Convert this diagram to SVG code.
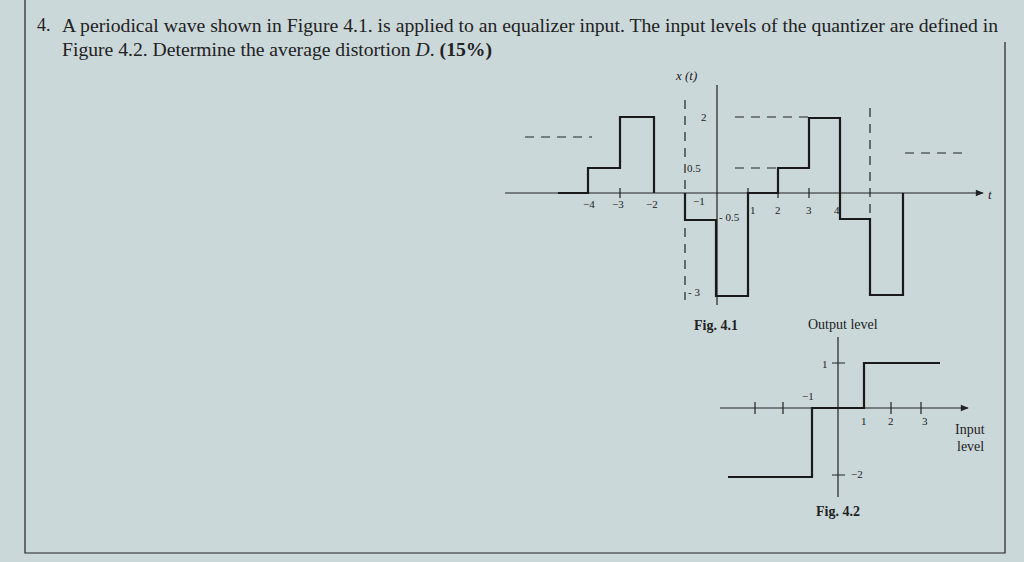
<svg xmlns="http://www.w3.org/2000/svg" width="1024" height="562" viewBox="0 0 1024 562">
<defs>
<style>
.t{font-family:"Liberation Serif",serif;fill:#222}
.s{font-family:"Liberation Serif",serif;fill:#222;font-size:11px}
.ax{stroke:#222;stroke-width:1.2;fill:none}
.w{stroke:#1a1a1a;stroke-width:2.2;fill:none}
.d{stroke:#222;stroke-width:1.2;fill:none;stroke-dasharray:9,7}
</style>
<marker id="ar" viewBox="0 0 10 10" refX="9" refY="5" markerWidth="10" markerHeight="8" orient="auto" markerUnits="userSpaceOnUse"><path d="M0,1 L10,5 L0,9z" fill="#222"/></marker>
</defs>
<rect width="1024" height="562" fill="#cbd8da"/>
<g id="frame" class="ax" stroke-width="1.6"><path d="M25,0 V553 H1005 V42"/></g>
<g id="text">
<text class="t" x="37" y="31" font-size="18">4.</text>
<text class="t" x="62" y="32" font-size="18" textLength="936" lengthAdjust="spacingAndGlyphs">A periodical wave shown in Figure 4.1. is applied to an equalizer input. The input levels of the quantizer are defined in</text>
<text class="t" x="62" y="56" font-size="18" textLength="430" lengthAdjust="spacingAndGlyphs">Figure 4.2. Determine the average distortion <tspan font-style="italic">D</tspan>. <tspan font-weight="bold">(15%)</tspan></text>
</g>
<g id="fig41">
<path class="ax" d="M505,193 H983" marker-end="url(#ar)"/>
<path class="ax" d="M717,85 V305"/>
<path class="ax" d="M620,188 V198 M748,188 V198 M778,188 V198 M809,188 V198"/>
<path class="d" d="M525,137 H592 M685,100 V300 M735,117 H808 M735,168 H778 M870,108 V300 M905,153 H965"/>
<path class="w" d="M558,193 H588 V168 H620 V117 H654 V193 M685,193 V220 H716 V296 H748 V193 H778 V168 H809 V118 H840 V219 H870 V295 H903 V193"/>
<text class="t" x="676" y="80" font-size="13" font-style="italic">x (t)</text>
<text class="t" x="988" y="199" font-size="13" font-style="italic">t</text>
<text class="s" x="701" y="121">2</text>
<text class="s" x="687" y="172">0.5</text>
<text class="s" x="719" y="221">- 0.5</text>
<text class="s" x="688" y="296">- 3</text>
<text class="s" x="583" y="208">−4</text>
<text class="s" x="612" y="208">−3</text>
<text class="s" x="646" y="208">−2</text>
<text class="s" x="693" y="205">−1</text>
<text class="s" x="750" y="214">1</text>
<text class="s" x="775" y="214">2</text>
<text class="s" x="806" y="214">3</text>
<text class="s" x="834" y="214">4</text>
<text class="t" x="694" y="330" font-size="14" font-weight="bold">Fig. 4.1</text>
</g>
<g id="fig42">
<path class="ax" d="M720,408 H968" marker-end="url(#ar)"/>
<path class="ax" d="M838,337 V497"/>
<path class="ax" d="M755,402 V414 M783,402 V414 M891,402 V414 M921,402 V414 M832,363 H845 M832,475 H845"/>
<path class="w" d="M728,477 H812 V408 H864 V363 H940"/>
<text class="t" x="808" y="329" font-size="14">Output level</text>
<text class="s" x="822" y="368">1</text>
<text class="s" x="802" y="400">−1</text>
<text class="s" x="861" y="425">1</text>
<text class="s" x="888" y="425">2</text>
<text class="s" x="922" y="425">3</text>
<text class="s" x="851" y="478">−2</text>
<text class="t" x="955" y="434" font-size="14">Input</text>
<text class="t" x="957" y="451" font-size="14">level</text>
<text class="t" x="816" y="516" font-size="14" font-weight="bold">Fig. 4.2</text>
</g>
</svg>
